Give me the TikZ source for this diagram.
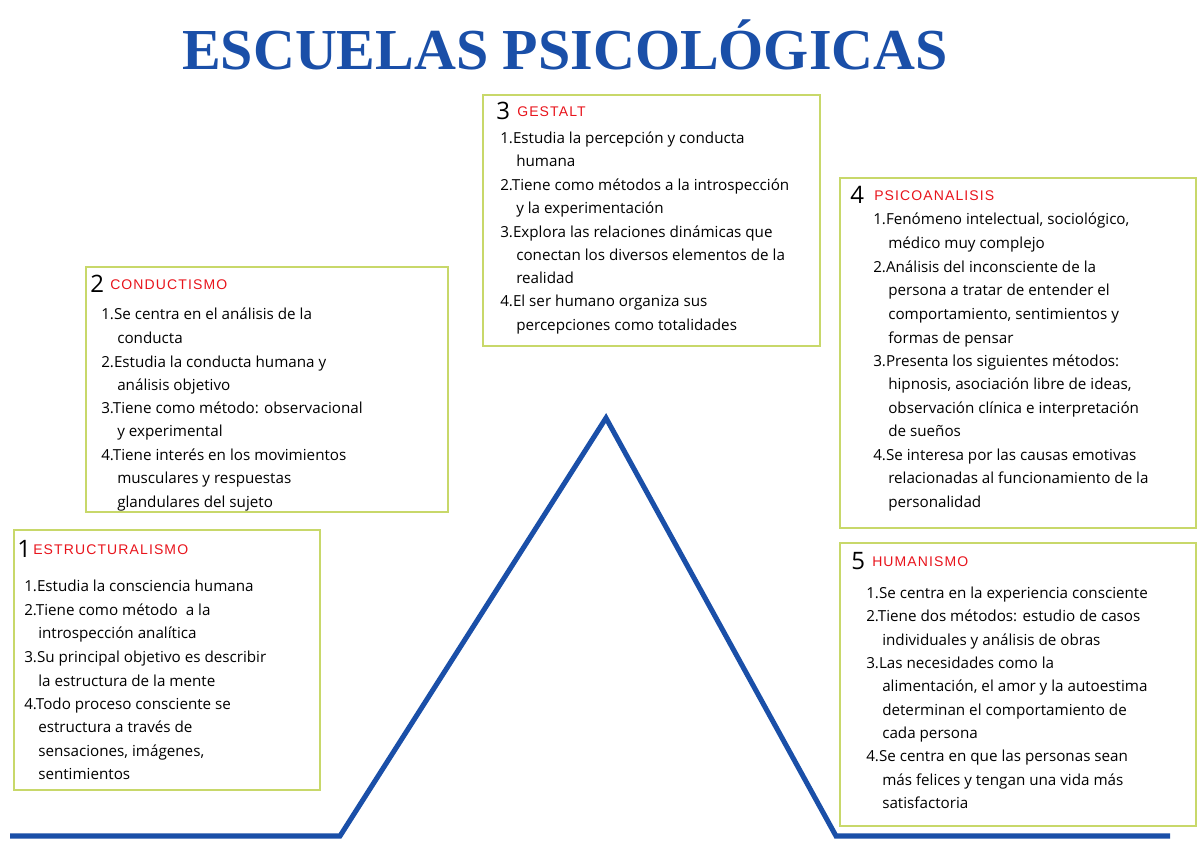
\documentclass[tikz,border=0pt]{standalone}
\usepackage{fontspec}
\setmainfont{Open Sans}
\newfontfamily\titlefont{Liberation Serif}
\newfontfamily\headfont[LetterSpace=8]{Liberation Sans}
\definecolor{bluel}{HTML}{1A4FA8}
\definecolor{boxc}{HTML}{C8D86A}
\definecolor{redh}{HTML}{E8141C}
\begin{document}
\begin{tikzpicture}[x=0.75pt,y=-0.75pt,
  bx/.style={draw=boxc,line width=1.6pt},
  tl/.style={anchor=base west,inner sep=0pt,yshift=-4.2pt,font=\fontsize{11.4}{13}\selectfont},
  num/.style={anchor=west,inner sep=0pt,font=\fontsize{18}{20}\selectfont},
  hd/.style={anchor=west,inner sep=0pt,text=redh,font=\headfont\fontsize{10.5}{12}\selectfont}]
\useasboundingbox (0,0) rectangle (1200,849);
\node[font=\titlefont\bfseries\fontsize{43.5}{48}\selectfont,text=bluel] (title) at (565,45) {ESCUELAS PSICOLÓGICAS};
\draw[bluel,line width=3.8pt] (10,836) coordinate(p0) -- (340,836) coordinate(p1) -- (606,418) coordinate(p2) -- (836,836) coordinate(p3) -- (1170,836) coordinate(p4);
% box 1
\draw[bx] (14,530) rectangle (320,790);
\node[num] (n1) at (17,549) {1}; \node[hd] (h1) at (33,550) {ESTRUCTURALISMO};
\foreach \y/\x/\t in {586/24/{1.Estudia la consciencia humana},610/24/{2.Tiene como método\ \ a la},633/38/{introspección analítica},657/24/{3.Su principal objetivo es describir},681/38/{la estructura de la mente},704/24/{4.Todo proceso consciente se},727/38/{estructura a través de},751/38/{sensaciones, imágenes,},774/38/{sentimientos}}
  \node[tl] (a\y) at (\x,\y) {\t};
% box 2
\draw[bx] (86,267) rectangle (448,512);
\node[num] (n2) at (90,284) {2}; \node[hd] (h2) at (110,285) {CONDUCTISMO};
\foreach \y/\x/\t in {314/101/{1.Se centra en el análisis de la},338/117/{conducta},362/101/{2.Estudia la conducta humana y},385/117/{análisis objetivo},408/101/{3.Tiene como método: observacional},431/117/{y experimental},455/101/{4.Tiene interés en los movimientos},478/117/{musculares y respuestas},502/117/{glandulares del sujeto}}
  \node[tl] (b\y) at (\x,\y) {\t};
% box 3
\draw[bx] (483,95) rectangle (820,346);
\node[num] (n3) at (496,111) {3}; \node[hd] (h3) at (517,112) {GESTALT};
\foreach \y/\x/\t in {138/500/{1.Estudia la percepción y conducta},161/516/{humana},185/500/{2.Tiene como métodos a la introspección},208/516/{y la experimentación},232/500/{3.Explora las relaciones dinámicas que},255/516/{conectan los diversos elementos de la},278/516/{realidad},301/500/{4.El ser humano organiza sus},325/516/{percepciones como totalidades}}
  \node[tl] (c\y) at (\x,\y) {\t};
% box 4
\draw[bx] (840,178) rectangle (1196,528);
\node[num] (n4) at (850,195) {4}; \node[hd] (h4) at (874,196) {PSICOANALISIS};
\foreach \y/\x/\t in {219/873/{1.Fenómeno intelectual, sociológico,},243/888/{médico muy complejo},267/873/{2.Análisis del inconsciente de la},290/888/{persona a tratar de entender el},314/888/{comportamiento, sentimientos y},338/888/{formas de pensar},361/873/{3.Presenta los siguientes métodos:},384/888/{hipnosis, asociación libre de ideas,},408/888/{observación clínica e interpretación},431/888/{de sueños},455/873/{4.Se interesa por las causas emotivas},478/888/{relacionadas al funcionamiento de la},502/888/{personalidad}}
  \node[tl] (d\y) at (\x,\y) {\t};
% box 5
\draw[bx] (840,543) rectangle (1196,826);
\node[num] (n5) at (851,561) {5}; \node[hd] (h5) at (872,562) {HUMANISMO};
\foreach \y/\x/\t in {593/866/{1.Se centra en la experiencia consciente},616/866/{2.Tiene dos métodos: estudio de casos},640/882/{individuales y análisis de obras},663/866/{3.Las necesidades como la},686/882/{alimentación, el amor y la autoestima},710/882/{determinan el comportamiento de},733/882/{cada persona},756/866/{4.Se centra en que las personas sean},780/882/{más felices y tengan una vida más},803/882/{satisfactoria}}
  \node[tl] (e\y) at (\x,\y) {\t};
\end{tikzpicture}
\end{document}
